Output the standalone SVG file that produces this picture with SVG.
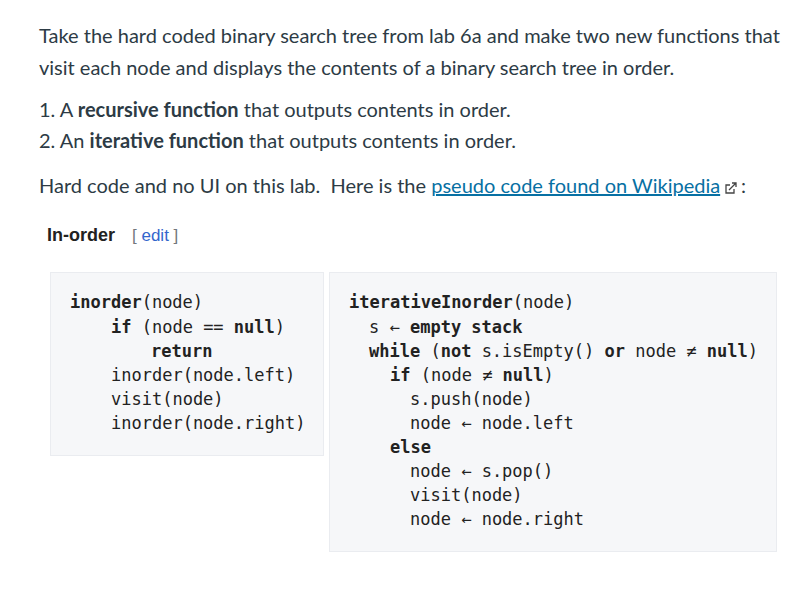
<svg xmlns="http://www.w3.org/2000/svg" width="796" height="605" viewBox="0 0 796 605">
<style>
.p{font-family:Lato,"Noto Sans",sans-serif;font-size:20px;fill:#2d3b45;white-space:pre}
.b{font-weight:bold}
.lnk{fill:#0770a3;text-decoration:underline}
.h{font-family:"Liberation Sans",Arial,sans-serif;font-size:18px;font-weight:bold;fill:#222}
.ed{font-family:"Liberation Sans",Arial,sans-serif;font-size:17px;white-space:pre}
.code{font-family:"DejaVu Sans Mono","Liberation Mono",monospace;font-size:17px;fill:#222}
.box{fill:#f6f7f9;stroke:#eaecf0;stroke-width:1}
</style>
<rect width="796" height="605" fill="#fff"/>
<g id="intro">
<text class="p" x="39" y="43">Take the hard coded binary search tree from lab 6a and make two new functions that</text>
<text class="p" x="39" y="75">visit each node and displays the contents of a binary search tree in order.</text>
<text class="p" x="39" y="117">1. A <tspan class="b">recursive function</tspan> that outputs contents in order.</text>
<text class="p" x="39" y="148">2. An <tspan class="b">iterative function</tspan> that outputs contents in order.</text>
<text class="p" x="39" y="193" xml:space="preserve">Hard code and no UI on this lab.  Here is the <tspan class="lnk">pseudo code found on Wikipedia</tspan></text>
<g fill="none" stroke="#444" stroke-width="1.3">
<path d="M730 185 h-4 v8 h8 v-4"/>
<path d="M729 190 L736 183 M732 183 h4 v4"/>
</g>
<text class="p" x="741" y="193">:</text>
</g>
<g id="heading">
<text class="h" x="47" y="241">In-order</text>
<text class="ed" x="132" y="241" xml:space="preserve"><tspan fill="#72777d">[ </tspan><tspan fill="#3366cc">edit</tspan><tspan fill="#72777d"> ]</tspan></text>
</g>
<g id="recursive">
<rect class="box" x="50.5" y="272.5" width="273" height="183"/>
<text class="code" x="70" y="308"><tspan class="b">inorder</tspan>(node)</text>
<text class="code" x="111" y="333"><tspan class="b">if</tspan> (node == <tspan class="b">null</tspan>)</text>
<text class="code" x="151" y="357" font-weight="bold">return</text>
<text class="code" x="111" y="381">inorder(node.left)</text>
<text class="code" x="111" y="405">visit(node)</text>
<text class="code" x="111" y="429">inorder(node.right)</text>
</g>
<g id="iterative">
<rect class="box" x="329.5" y="272.5" width="447" height="279"/>
<text class="code" x="349" y="308"><tspan class="b">iterativeInorder</tspan>(node)</text>
<text class="code" x="369" y="333">s ← <tspan class="b">empty stack</tspan></text>
<text class="code" x="369" y="357"><tspan class="b">while</tspan> (<tspan class="b">not</tspan> s.isEmpty() <tspan class="b">or</tspan> node ≠ <tspan class="b">null</tspan>)</text>
<text class="code" x="390" y="381"><tspan class="b">if</tspan> (node ≠ <tspan class="b">null</tspan>)</text>
<text class="code" x="410" y="405">s.push(node)</text>
<text class="code" x="410" y="429">node ← node.left</text>
<text class="code" x="390" y="453" font-weight="bold">else</text>
<text class="code" x="410" y="477">node ← s.pop()</text>
<text class="code" x="410" y="501">visit(node)</text>
<text class="code" x="410" y="525">node ← node.right</text>
</g>
</svg>
